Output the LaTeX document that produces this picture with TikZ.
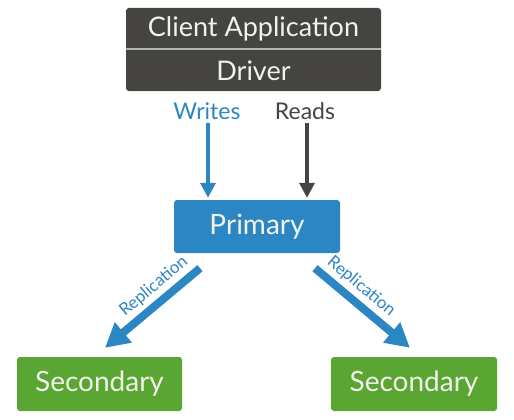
\documentclass[tikz,border=0pt]{standalone}
\usepackage{fontspec}
\setmainfont{Lato}
\usetikzlibrary{arrows.meta,calc}
\definecolor{darkbox}{HTML}{464441}
\definecolor{bluebox}{HTML}{2D86C4}
\definecolor{greenbox}{HTML}{5AA632}
\definecolor{boxtext}{HTML}{F2F2EC}
\begin{document}
\begin{tikzpicture}[x=1pt,y=-1pt,
  box/.style={rounded corners=3pt, text=boxtext, inner sep=0pt, font=\fontsize{28}{30}\selectfont},
  boxtxt/.style={inner sep=0pt, text=boxtext, font=\fontsize{27}{29}\selectfont},
  lbl/.style={inner sep=0pt, font=\fontsize{23}{25}\selectfont},
  thinarrow/.style={line width=3.5pt, -{Triangle[width=15pt,length=15pt]}},
  reparrow/.style={line width=8pt, bluebox, -{Triangle[width=25pt,length=24pt]}},
  replbl/.style={sloped, above=4pt, pos=0.38, inner sep=0pt, text=bluebox, font=\fontsize{17}{19}\selectfont}]
\useasboundingbox (0,0) rectangle (514,420);
% top box
\node[box, fill=darkbox, minimum width=255pt, minimum height=83pt] (app) at (253.5,49.5) {};
\node[boxtxt] (client) at (253.5,29) {Client Application};
\node[boxtxt] (driver) at (253.5,71) {Driver};
\draw[line width=1.5pt, color=gray!60] (app.west |- 0,49) -- (app.east |- 0,49);
% labels
\node[lbl, text=bluebox] (writes) at (207,111) {Writes};
\node[lbl, text=darkbox] (reads) at (305,111) {Reads};
% primary
\node[box, fill=bluebox, minimum width=166pt, minimum height=53pt] (primary) at (257,226.5) {Primary};
% secondaries
\node[box, fill=greenbox, minimum width=165pt, minimum height=54pt] (secL) at (99.5,384) {Secondary};
\node[box, fill=greenbox, minimum width=166pt, minimum height=54pt] (secR) at (414,384) {Secondary};
% arrows
\draw[thinarrow, bluebox] ($(writes.south)+(1,3)$) -- ($(writes.south |- primary.north)+(1,-2)$);
\draw[thinarrow, darkbox] ($(reads.south)+(2,3)$) -- ($(reads.south |- primary.north)+(2,-2)$);
\draw[reparrow] ($(primary.south)+(-57,15)$) -- node[replbl] {Replication} ($(secL.north)+(5.5,-9)$);
\draw[reparrow] ($(primary.south)+(58,15)$) -- node[replbl] {Replication} ($(secR.north)+(-4,-9)$);
\end{tikzpicture}
\end{document}
